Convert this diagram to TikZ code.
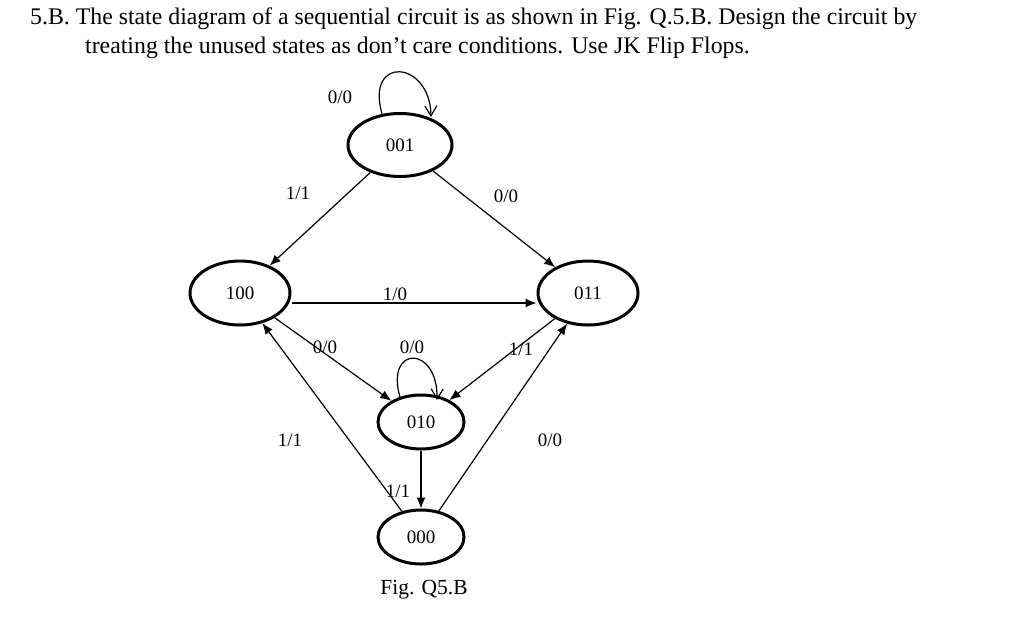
\documentclass[tikz,border=0pt]{standalone}
\usepackage{fontspec}
\setmainfont{Liberation Serif}
\usetikzlibrary{arrows.meta,shapes.geometric}
\begin{document}
\begin{tikzpicture}[x=1pt,y=-1pt,
  st/.style={ellipse,draw,line width=3pt,minimum width=#1,font=\fontsize{19}{21}\selectfont},
  tr/.style={-{Latex[length=11pt,width=9pt]},line width=1.2pt},
  lp/.style={-{Straight Barb[length=10pt,width=12pt]},line width=1.2pt},
  lb/.style={font=\fontsize{19}{21}\selectfont,inner sep=1pt}]
\useasboundingbox (0,0) rectangle (1024,619);
\node[anchor=base west,font=\fontsize{23.8}{26}\selectfont,inner sep=0] (t1) at (30,24) {5.B. The state diagram of a sequential circuit is as shown in Fig. Q.5.B. Design the circuit by};
\node[anchor=base west,font=\fontsize{23.8}{26}\selectfont,inner sep=0] (t2) at (85,53) {treating the unused states as don’t care conditions. Use JK Flip Flops.};
\node[st=104pt,minimum height=63pt] (a) at (400,145) {001};
\node[st=100pt,minimum height=64pt] (b) at (240,293) {100};
\node[st=100pt,minimum height=64pt] (c) at (588,293) {011};
\node[st=86pt,minimum height=54pt] (d) at (421,422) {010};
\node[st=86pt,minimum height=54pt] (e) at (421,537) {000};
\draw[tr] (a) -- (b);
\draw[tr] (a) -- (c);
\draw[tr] (b.east |- 0,303) -- (c.west |- 0,303);
\draw[tr] (b) -- (d);
\draw[tr] (c) -- (d);
\draw[tr] (d) -- (e);
\draw[tr] (e) -- (b);
\draw[tr] (e) -- (c);
\draw[lp] (a.120) .. controls (365,55) and (430,60) .. (431,117);
\draw[lp] (d.130) .. controls (385,345) and (438,345) .. (437,400);
\node[lb] (l1) at (340,97) {0/0};
\node[lb] (l2) at (298,193) {1/1};
\node[lb] (l3) at (506,196) {0/0};
\node[lb] (l4) at (395,294) {1/0};
\node[lb] (l5) at (325,347) {0/0};
\node[lb] (l6) at (412,347) {0/0};
\node[lb] (l7) at (521,349) {1/1};
\node[lb] (l8) at (290,440) {1/1};
\node[lb] (l9) at (550,440) {0/0};
\node[lb] (l10) at (398,491) {1/1};
\node[font=\fontsize{21.5}{23}\selectfont] (cap) at (424,590) {Fig. Q5.B};
\end{tikzpicture}
\end{document}
